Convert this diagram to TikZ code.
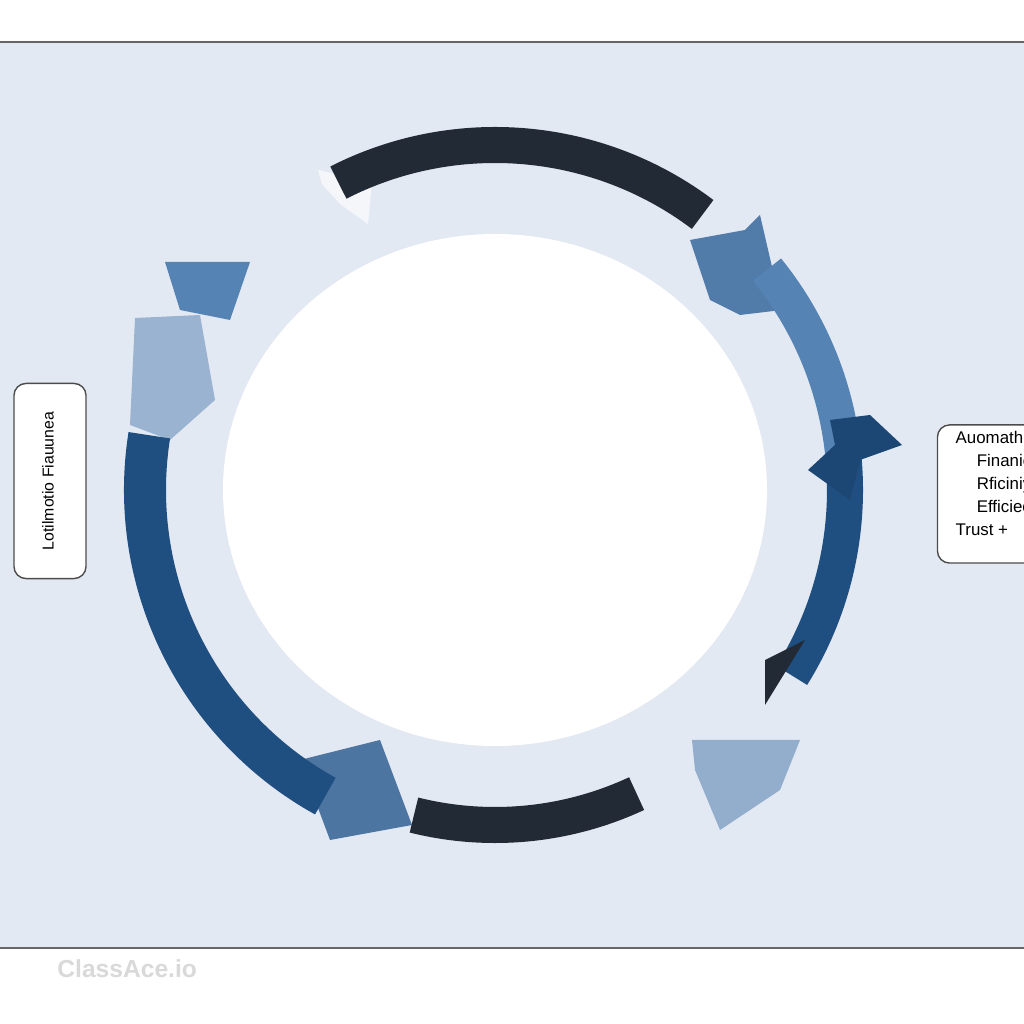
\documentclass[tikz,border=0pt]{standalone}
\usepackage{fontspec}
\setmainfont{Liberation Sans}
\begin{document}
\begin{tikzpicture}[x=0.01cm,y=0.01cm,
  arcline/.style={line width=0.36cm},
  lbl/.style={draw=black!70,fill=white,rounded corners=0.12cm,line width=0.4pt}]
\definecolor{bgp}{HTML}{E3E9F2}
\definecolor{dk}{HTML}{222A35}
\definecolor{mb}{HTML}{5583B3}
\definecolor{db}{HTML}{1F4E80}
\definecolor{lb}{HTML}{9AB3D0}
\useasboundingbox (0,0) rectangle (1024,1024);
\fill[white] (0,0) rectangle (1024,1024);
\fill[bgp] (0,76) rectangle (1024,982);
\draw[black!60,line width=0.5pt] (0,982) -- (1024,982) (0,76) -- (1024,76);
% central circle
\fill[white] (495,534) ellipse (272 and 256);
\coordinate (c) at (495,534);
% decorative flags
\fill[white!60!bgp] (318,854) -- (372,842) -- (368,800) -- (340,820) -- (322,840) -- cycle;
\fill[mb] (165,762) -- (250,762) -- (230,704) -- (180,714) -- cycle;
\fill[lb] (135,706) -- (200,709) -- (215,624) -- (170,584) -- (130,599) -- cycle;
\fill[mb!95!black] (690,784) -- (745,794) -- (760,809) -- (782,714) -- (740,709) -- (710,724) -- cycle;
\fill[lb!90!mb] (692,284) -- (800,284) -- (780,234) -- (720,194) -- (695,254) -- cycle;
\fill[mb!90!black] (300,264) -- (380,284) -- (412,199) -- (330,184) -- cycle;
% arcs
\draw[arcline,dk] (c) ++(117:345) arc[start angle=117,end angle=53,radius=345];
\draw[arcline,mb] (c) ++(39:350) arc[start angle=39,end angle=5,radius=350];
\draw[arcline,db] (c) ++(5:350) arc[start angle=5,end angle=-32,radius=350];
\draw[arcline,line width=0.42cm,db] (c) ++(171:350) arc[start angle=171,end angle=241,radius=350];
\draw[arcline,dk] (c) ++(256:335) arc[start angle=256,end angle=295,radius=335];
% arrow heads
\fill[db!90!black] (830,604) -- (870,609) -- (902,579) -- (860,564) -- (850,524) -- (808,554) -- (835,579) -- cycle;
\fill[dk] (765,364) -- (805,384) -- (765,319) -- cycle;
% labels
\node[lbl,minimum width=0.72cm,minimum height=1.95cm] (left) at (50,543) {};
\node[rotate=90,font=\fontsize{4.5}{5}\selectfont] (lt) at (48,543) {Lotilmotio Fiauunea};
\node[lbl,minimum width=1.05cm,minimum height=1.38cm] (right) at (990,530) {};
\node[anchor=north west,align=left,font=\fontsize{4.8}{6.5}\selectfont,inner sep=0pt] (rt) at (955,593)
 {\hspace*{0pt}Auomath\\ \hspace*{6pt}Finanici\\ \hspace*{6pt}Rficiniy\\ \hspace*{6pt}Efficiec\\ Trust +};
\node[white!85!black,font=\bfseries\fontsize{7}{8}\selectfont,anchor=west] (wm) at (45,55) {ClassAce.io};
\end{tikzpicture}
\end{document}
